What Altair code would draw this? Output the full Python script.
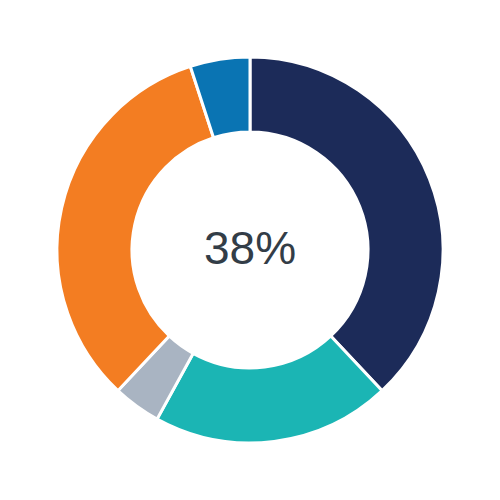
import pandas as pd
import altair as alt

# Donut segments, clockwise from 12 o'clock
segments = ['Navy', 'Teal', 'Gray', 'Orange', 'Blue']
shares = [38, 20, 4, 33, 5]
colors = ['#1c2b59', '#1bb5b4', '#a9b4c2', '#f37d22', '#0a74b3']

df = pd.DataFrame({'segment': segments, 'share': shares, 'rank': range(len(segments))})

arcs = alt.Chart(df).mark_arc(
    outerRadius=193, innerRadius=118, stroke='white', strokeWidth=3
).encode(
    theta=alt.Theta('share:Q', stack=True),
    order=alt.Order('rank:O'),
    color=alt.Color('segment:N', scale=alt.Scale(domain=segments, range=colors), legend=None)
)

label = alt.Chart(pd.DataFrame({'t': ['38%']})).mark_text(
    fontSize=46, font='Liberation Sans', color='#333d47', baseline='middle', align='center'
).encode(
    text='t:N',
    x=alt.value(242),
    y=alt.value(242)
)

chart = (arcs + label).properties(
    width=484, height=484, padding=0, autosize='none'
).configure_view(stroke=None)

chart.save("out.html", embed_options={"renderer": "svg", "actions": False})
